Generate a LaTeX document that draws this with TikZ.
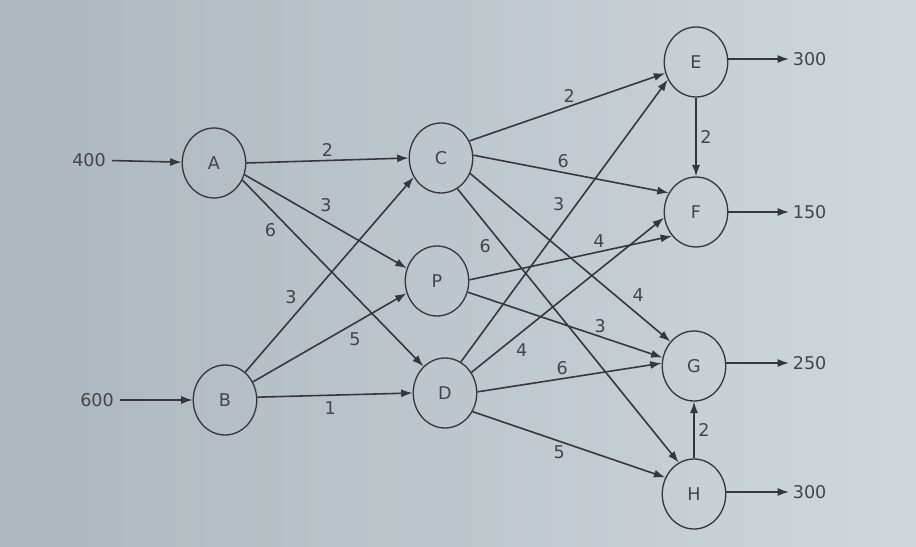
\documentclass[tikz,border=0pt]{standalone}
\usepackage{fontspec}
\setmainfont{DejaVu Sans}
\usepackage{xcolor}
\definecolor{ink}{RGB}{52,56,60}
\definecolor{txt}{RGB}{66,70,74}
\definecolor{bgl}{RGB}{172,182,188}
\definecolor{bgr}{RGB}{208,216,221}
\usepackage{tikz}
\usetikzlibrary{positioning}
\usetikzlibrary{arrows.meta}
\usetikzlibrary{shapes.geometric}

\begin{document}
\begin{tikzpicture}[x=0.02cm,y=-0.02cm,every node/.style={font=\fontsize{10}{12}\selectfont,text=txt},
stn/.style={ellipse,draw=ink,line width=0.75pt,minimum width=1.27cm,minimum height=1.4cm,inner sep=0pt},
arc/.style={draw=ink,line width=0.9pt,-{Latex[length=6.5pt,width=4.6pt]}},
wt/.style={inner sep=2pt}]
\shade[left color=bgl,right color=bgr] (0,0) rectangle (916,547);
\useasboundingbox (0,0) rectangle (916,547);
\foreach \n/\x/\y in {A/214/163,B/225/400,C/441/158,P/437/281,D/445/393,E/696/62,F/696/212,G/694/366,H/694/494}
  \node[stn] (\n) at (\x,\y) {\n};
\node[anchor=east] (sA) at (112,160) {400};
\node[anchor=east] (sB) at (120,400) {600};
\draw[arc] (sA) -- (A);
\draw[arc] (sB) -- (B);
\draw[arc] (A.0) -- node[wt,pos=.5,above] (wAC) {2} (C.180);
\draw[arc] (A.339) -- node[wt,pos=.44,above right] (wAP) {3} (P.157);
\draw[arc] (A.329) -- node[wt,pos=.21,below left] (wAD) {6} (D.129);
\draw[arc] (B.54) -- node[wt,pos=.33,above left] (wBC) {3} (C.215);
\draw[arc] (B.33) -- node[wt,pos=.6,below right] (wBP) {5} (P.202);
\draw[arc] (B.5) -- node[pos=.47,below] (wBD) {1} (D.180);
\draw[arc] (C.31) -- node[wt,pos=.51,above] (wCE) {2} (E.200);
\draw[arc] (C.5) -- node[wt,pos=.46,above] (wCF) {6} (F.145);
\draw[arc] (C.332) -- node[wt,pos=.79,above right] (wCG) {4} (G.134);
\draw[arc] (C.298) -- node[wt,pos=.17,below left] (wCH) {6} (H.116);
\draw[arc] (P.2) -- node[wt,pos=.64,above] (wPF) {4} (F.225);
\draw[arc] (P.340) -- node[wt,pos=.68,above] (wPG) {3} (G.165);
\draw[arc] (D.63) -- node[wt,pos=.52,above left] (wDE) {3} (E.212);
\draw[arc] (D.38) -- node[wt,pos=.21,below right] (wDF) {4} (F.190);
\draw[arc] (D.2) -- node[wt,pos=.46,above] (wDG) {6} (G.175);
\draw[arc] (D.326) -- node[wt,pos=.45,below] (wDH) {5} (H.150);
\draw[arc] (E) -- node[wt,right] (wEF) {2} (F);
\draw[arc] (H) -- node[wt,right] (wHG) {2} (G);
\coordinate (oE) at (789,59);
\coordinate (oF) at (789,212);
\coordinate (oG) at (789,363);
\coordinate (oH) at (789,492);
\draw[arc] (E.east |- oE) -- (oE);
\draw[arc] (F.east |- oF) -- (oF);
\draw[arc] (G.east |- oG) -- (oG);
\draw[arc] (H.east |- oH) -- (oH);
\node[wt,right=0pt of oE] (tE) {300};
\node[wt,right=0pt of oF] (tF) {150};
\node[wt,right=0pt of oG] (tG) {250};
\node[wt,right=0pt of oH] (tH) {300};
\end{tikzpicture}
\end{document}
